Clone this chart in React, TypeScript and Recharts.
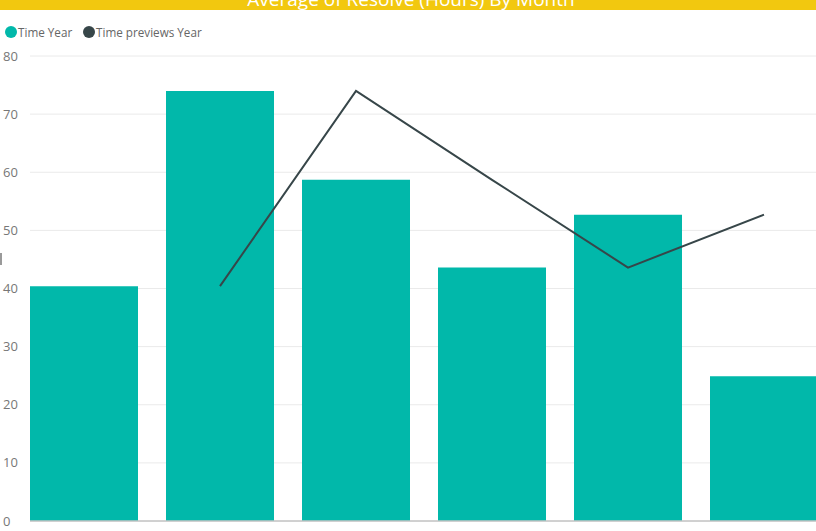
import React from "react";
import { ComposedChart, Bar, Line, XAxis, YAxis, CartesianGrid } from "recharts";

const months = ["January", "February", "March", "April", "May", "June"];
const timeYear = [40.4, 74.0, 58.7, 43.6, 52.7, 24.9];
const timePreviousYear: (number | null)[] = [null, 40.4, 74.0, 58.7, 43.6, 52.7];
const yTicks = [0, 10, 20, 30, 40, 50, 60, 70, 80];

const data = months.map((m, i) => ({
  month: m,
  timeYear: timeYear[i],
  timePreviousYear: timePreviousYear[i],
}));

const FONT = "'Open Sans', sans-serif";
const TEAL = "#01B8AA";
const DARK = "#374649";

const YTick = (props: any) => {
  const { y, payload } = props;
  return (
    <text x={3} y={y + 4.5} fill="#777777" fontSize={13} fontFamily={FONT} textAnchor="start">
      {payload.value}
    </text>
  );
};

export default function App() {
  return (
    <div
      style={{
        position: "absolute",
        top: 0,
        left: 0,
        width: 816,
        height: 531,
        overflow: "hidden",
        background: "#ffffff",
      }}
    >
      <svg width={816} height={50} style={{ position: "absolute", top: 0, left: 0 }}>
        <rect x={0} y={0} width={816} height={10} fill="#F2C80F" />
        <text x={411} y={6} textAnchor="middle" fill="#ffffff" fontSize={19} fontFamily={FONT}>
          Average of Resolve (Hours) By Month
        </text>
        <circle cx={11} cy={32} r={6} fill={TEAL} />
        <text x={18} y={36.5} fill="#666666" fontSize={11.7} fontFamily={FONT}>
          Time Year
        </text>
        <circle cx={89} cy={32} r={6} fill={DARK} />
        <text x={96} y={36.5} fill="#666666" fontSize={11.7} fontFamily={FONT}>
          Time previews Year
        </text>
      </svg>
      <div
        style={{
          position: "absolute",
          left: 0,
          top: 253,
          width: 2,
          height: 12,
          background: "#9a9a9a",
        }}
      />
      <div style={{ position: "absolute", top: 0, left: 0 }}>
        <ComposedChart
          width={832}
          height={531}
          data={data}
          margin={{ top: 56, right: 0, bottom: 0, left: 0 }}
        >
          <CartesianGrid horizontal={true} vertical={false} stroke="#eaeaea" strokeWidth={1} />
          <XAxis
            dataKey="month"
            tick={false}
            tickLine={false}
            height={10}
            axisLine={{ stroke: "#c4c4c4", strokeWidth: 1.5 }}
            padding={{ left: -14, right: 0 }}
          />
          <YAxis
            width={30}
            domain={[0, 80]}
            ticks={yTicks}
            tick={<YTick />}
            tickLine={false}
            axisLine={false}
            interval={0}
          />
          <Bar dataKey="timeYear" fill={TEAL} barSize={108} isAnimationActive={false} />
          <Line
            dataKey="timePreviousYear"
            stroke={DARK}
            strokeWidth={2}
            dot={false}
            activeDot={false}
            connectNulls={false}
            isAnimationActive={false}
          />
        </ComposedChart>
      </div>
    </div>
  );
}
